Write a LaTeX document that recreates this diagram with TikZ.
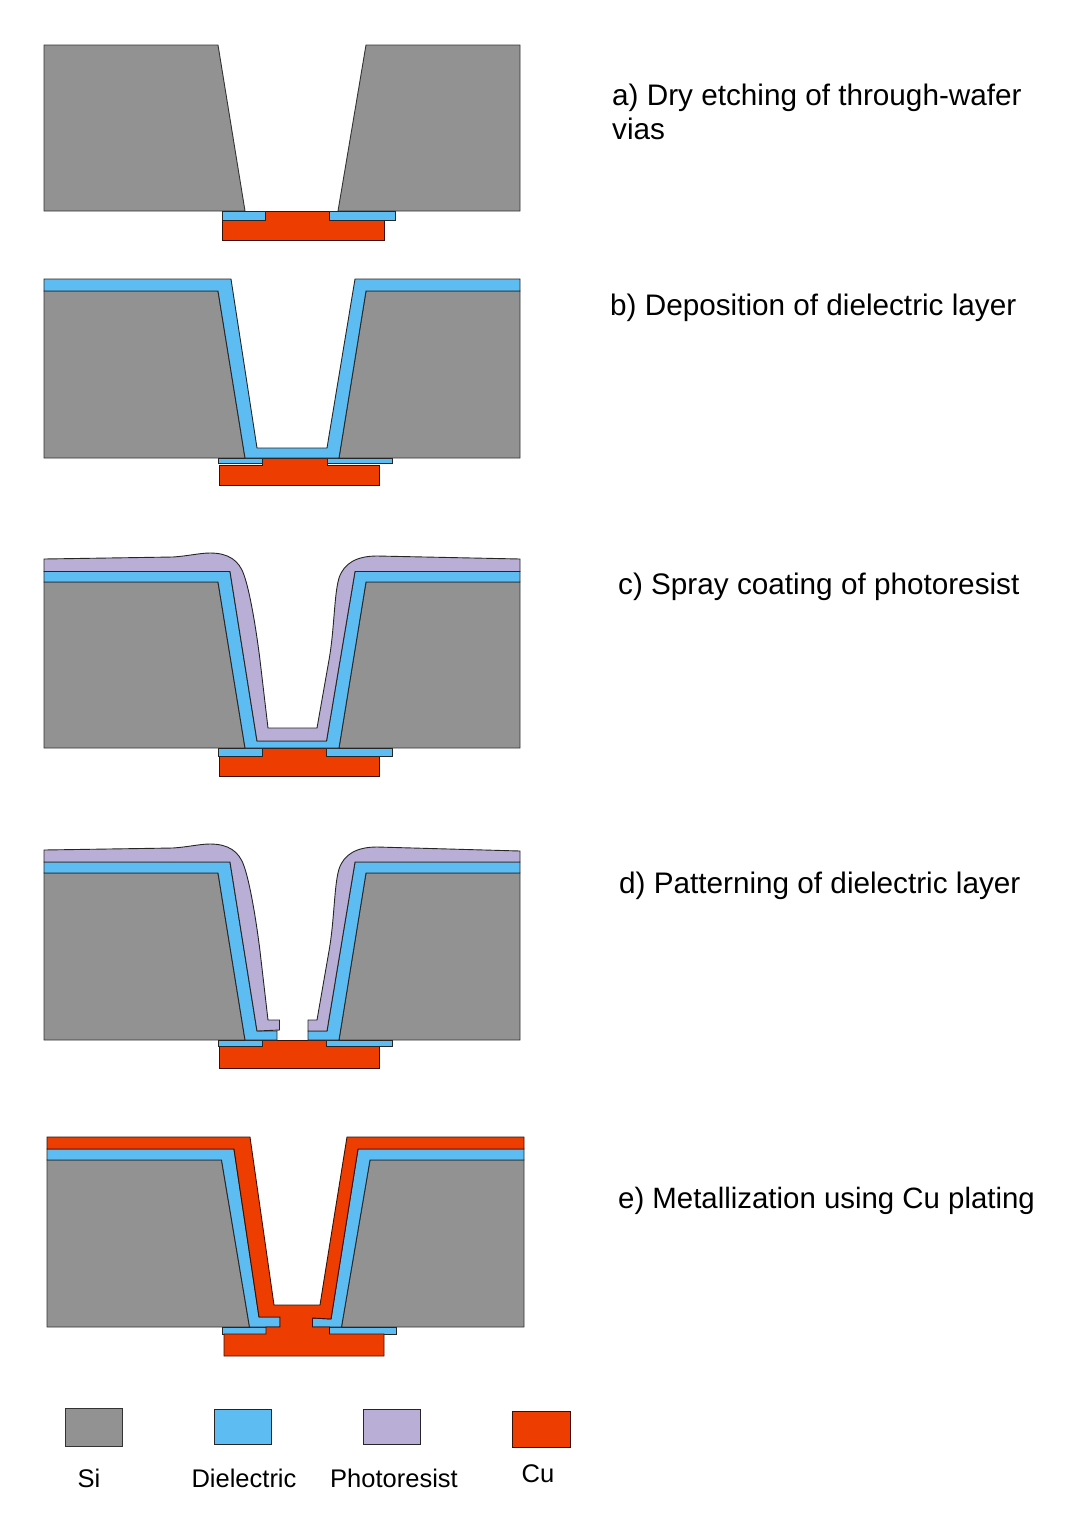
\documentclass[tikz,border=0pt]{standalone}
\usepackage{fontspec}
\setmainfont{Liberation Sans}
\definecolor{siGray}{HTML}{929292}
\definecolor{dielBlue}{HTML}{5DBCF2}
\definecolor{resistLilac}{HTML}{B9AED6}
\definecolor{cuRed}{HTML}{EE3D00}
\tikzset{
  si/.style={draw=black!80,fill=siGray,line width=0.9pt},
  diel/.style={draw=black!85,fill=dielBlue,line width=0.9pt},
  resist/.style={draw=black!85,fill=resistLilac,line width=0.9pt},
  cu/.style={draw=black!75!cuRed,fill=cuRed,line width=0.9pt},
  step label/.style={anchor=west,align=left,inner sep=0pt,font=\fontsize{29.7}{34}\selectfont},
  key label/.style={inner sep=0pt,font=\fontsize{25.5}{28}\selectfont}
}

\begin{document}
\begin{tikzpicture}[x=1pt,y=-1pt]
    \useasboundingbox (0,0) rectangle (1065,1526);

    % — a) Etched vias
    \draw [si] (44,45) -- (218,45) -- (245,211) -- (44,211) -- cycle;
    \draw [si] (366,45) -- (520,45) -- (520,211) -- (338,211) -- cycle;
    \draw [cu] (222,220) -- (265,220) -- (265,211.5) -- (329,211.5) -- (329,220) -- (384,220) -- (384,240) -- (222,240) -- cycle;
    \draw [diel] (222,211.5) rectangle (265,220);
    \draw [diel] (329,211.5) rectangle (395,220);
    \node [step label] (lbla) at (612,112) {a) Dry etching of through-wafer\\vias};

    % — b) Dielectric deposited
    \draw [si] (44,291) -- (218,291) -- (245,458) -- (44,458) -- cycle;
    \draw [si] (366,291) -- (520,291) -- (520,458) -- (339,458) -- cycle;
    \draw [cu] (219.5,465) -- (262.5,465) -- (262.5,458) -- (327,458) -- (327,465) -- (379.5,465) -- (379.5,485) -- (219.5,485) -- cycle;
    \draw [diel] (218,458) rectangle (262.5,463);
    \draw [diel] (327,458) rectangle (392,463);
    \draw [diel] (44,279) -- (231,279) -- (257,448) -- (327,448) -- (355,279) -- (520,279) -- (520,291) -- (366,291) -- (339,458) -- (245,458) -- (218,291) -- (44,291) -- cycle;
    \node [step label] (lblb) at (610,308) {b) Deposition of dielectric layer};

    % — c) Photoresist on top
    \draw [si] (44,582) -- (218,582) -- (245,748) -- (44,748) -- cycle;
    \draw [si] (366,582) -- (520,582) -- (520,748) -- (339,748) -- cycle;
    \draw [cu] (219.5,756) -- (262.5,756) -- (262.5,748) -- (326.5,748) -- (326.5,756) -- (379.5,756) -- (379.5,776) -- (219.5,776) -- cycle;
    \draw [diel] (218,748) rectangle (262.5,756);
    \draw [diel] (326.5,748) rectangle (392,756);
    \draw [diel] (44,571.5) -- (230,571.5) -- (257,741) -- (326.5,741) -- (355,571.5) -- (520,571.5) -- (520,582) -- (366,582) -- (339,748) -- (245,748) -- (218,582) -- (44,582) -- cycle;
    \draw [resist] (44,559) -- (173,557) .. controls (188,556) and (200,553) .. (210,553)
      .. controls (228,553) and (239,560) .. (244,575) .. controls (250,592) and (256,628) .. (260,660)
      -- (268,728) -- (317,728) -- (329,660) .. controls (334.5,629) and (334,595) .. (339,578)
      .. controls (344,563) and (357,556) .. (377,556) -- (520,559) -- (520,571.5) -- (355,571.5)
      -- (326.5,741) -- (257,741) -- (230,571.5) -- (44,571.5) -- cycle;
    \node [step label] (lblc) at (618,587) {c) Spray coating of photoresist};

    % — d) Opening through the dielectric
    \draw [si] (44,873) -- (218,873) -- (245,1040) -- (44,1040) -- cycle;
    \draw [si] (366,873) -- (520,873) -- (520,1040) -- (339,1040) -- cycle;
    \draw [cu] (219.5,1046) -- (262.5,1046) -- (262.5,1040) -- (326.5,1040) -- (326.5,1046) -- (379.5,1046) -- (379.5,1068) -- (219.5,1068) -- cycle;
    \draw [diel] (218,1040) rectangle (262.5,1046);
    \draw [diel] (326.5,1040) rectangle (392,1046);
    \draw [diel] (44,862) -- (230,862) -- (257,1031) -- (277,1031) -- (277,1040) -- (245,1040) -- (218,873) -- (44,873) -- cycle;
    \draw [diel] (520,862) -- (355,862) -- (327,1031) -- (308,1031) -- (308,1040) -- (339,1040) -- (366,873) -- (520,873) -- cycle;
    \draw [resist] (44,850) -- (173,848) .. controls (188,847) and (200,844) .. (210,844)
      .. controls (228,844) and (239,851) .. (244,866) .. controls (250,883) and (256,919) .. (260,951)
      -- (268,1020) -- (279.5,1020) -- (279.5,1030) -- (257,1031) -- (230,862) -- (44,862) -- cycle;
    \draw [resist] (520,851) -- (377,847) .. controls (357,847) and (344,854) .. (339,869)
      .. controls (334,886) and (334.5,920) .. (329,951) -- (317,1020) -- (308,1020) -- (308,1031)
      -- (327,1031) -- (355,862) -- (520,862) -- cycle;
    \node [step label] (lbld) at (619,886) {d) Patterning of dielectric layer};

    % — e) Plated metal
    \draw [si] (47,1160) -- (221.5,1160) -- (249.5,1327) -- (47,1327) -- cycle;
    \draw [si] (370,1160) -- (524,1160) -- (524,1327) -- (341.5,1327) -- cycle;
    \draw [diel] (222,1327) rectangle (266,1334);
    \draw [diel] (329.5,1327) rectangle (396.5,1334);
    \draw [diel] (47,1149) -- (234,1149) -- (259,1317) -- (280,1317) -- (280,1327) -- (249.5,1327) -- (221.5,1160) -- (47,1160) -- cycle;
    \draw [diel] (524,1149) -- (358,1149) -- (331,1319) -- (312.5,1318) -- (312.5,1327) -- (341.5,1327) -- (370,1160) -- (524,1160) -- cycle;
    \draw [cu] (47,1137) -- (250,1137) -- (274,1305) -- (320,1305) -- (347,1137) -- (524,1137) -- (524,1149) -- (358,1149)
      -- (331,1319) -- (312.5,1318) -- (312.5,1327) -- (329.5,1327) -- (329.5,1334) -- (384,1334) -- (384,1356) -- (224,1356)
      -- (224,1334) -- (266,1334) -- (266,1327) -- (280,1327) -- (280,1317) -- (259,1317) -- (234,1149) -- (47,1149) -- cycle;
    \node [step label,font=\fontsize{29.4}{34}\selectfont] (lble) at (618,1201) {e) Metallization using Cu plating};

    % — Legend
    \draw [si] (65,1408) rectangle (122,1446);
    \draw [diel] (214,1409) rectangle (271,1444);
    \draw [resist] (363,1409) rectangle (420,1444);
    \draw [cu] (512,1411) rectangle (570,1447);
    \node [key label] (keysi)     at (89,1478)  {Si};
    \node [key label] (keydiel)   at (244,1478) {Dielectric};
    \node [key label] (keyresist) at (394,1478) {Photoresist};
    \node [key label] (keycu)     at (538,1474) {Cu};
\end{tikzpicture}
\end{document}
